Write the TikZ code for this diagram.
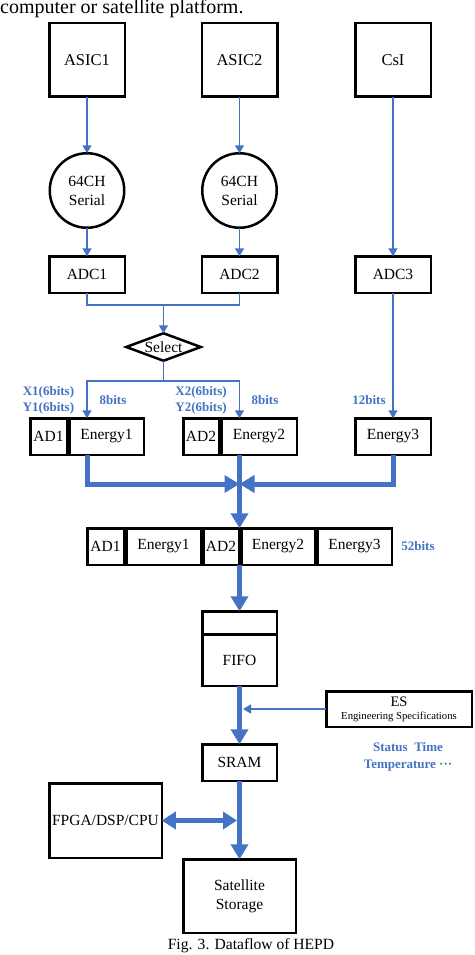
\documentclass[tikz,border=0pt]{standalone}
\usepackage{fontspec}
\setmainfont{Liberation Serif}
\usetikzlibrary{arrows.meta,shapes.geometric}
\definecolor{flow}{RGB}{68,114,196}
\begin{document}
\begin{tikzpicture}[x=1pt,y=-1pt,
 box/.style={draw=black,line width=2.5pt,inner sep=0pt,outer sep=0pt,font=\fontsize{15.5}{19}\selectfont,align=center},
 thinflow/.style={draw=flow,line width=1.6pt},
 thinarrow/.style={thinflow,-{Triangle[length=8pt,width=9pt]}},
 thickflow/.style={draw=flow,line width=5pt},
 thickarrow/.style={thickflow,-{Triangle[length=15pt,width=17pt]}},
 bitlabel/.style={text=flow,font=\fontsize{13}{16}\selectfont\bfseries,align=center,inner sep=0pt}]
\useasboundingbox (0,0) rectangle (474,955);

\node[anchor=base west,inner sep=0pt,font=\fontsize{20}{24}\selectfont] (top) at (0,13.5) {computer or satellite platform.};

% top row
\node[box,minimum width=75.5pt,minimum height=73.5pt,font=\fontsize{16.5}{19}\selectfont] (asic1) at (87,60) {ASIC1};
\node[box,minimum width=75.5pt,minimum height=73.5pt,font=\fontsize{16.5}{19}\selectfont] (asic2) at (239.5,60) {ASIC2};
\node[box,minimum width=75.5pt,minimum height=73.5pt,font=\fontsize{16.5}{19}\selectfont] (csi) at (393,60) {CsI};

\node[box,circle,minimum size=74.5pt] (ser1) at (87,190.5) {64CH\\Serial};
\node[box,circle,minimum size=74.5pt] (ser2) at (239.5,190.5) {64CH\\Serial};

\node[box,minimum width=75.5pt,minimum height=36.5pt] (adc1) at (87,274.5) {ADC1};
\node[box,minimum width=75.5pt,minimum height=36.5pt] (adc2) at (239.5,274.5) {ADC2};
\node[box,minimum width=75.5pt,minimum height=36.5pt] (adc3) at (393,274.5) {ADC3};

\node[box,diamond,aspect=2.57,minimum width=74.5pt,minimum height=27.5pt] (sel) at (163.5,347) {Select};

% energy boxes
\node[box,minimum width=36.5pt,minimum height=36.5pt] (ad1) at (48.5,436.5) {AD1};
\node[box,minimum width=74.5pt,minimum height=36.5pt] (en1) at (106.5,436.5) {Energy1};
\node[box,minimum width=35.5pt,minimum height=36.5pt] (ad2) at (201,436.5) {AD2};
\node[box,minimum width=75.5pt,minimum height=36.5pt] (en2) at (259,436.5) {Energy2};
\node[box,minimum width=75.5pt,minimum height=36.5pt] (en3) at (393,436.5) {Energy3};

% 52 bits row
\node[box,minimum width=36.5pt,minimum height=36.5pt] (r1) at (105.5,546.5) {AD1};
\node[box,minimum width=74.5pt,minimum height=36.5pt] (r2) at (163.5,546.5) {Energy1};
\node[box,minimum width=35.5pt,minimum height=36.5pt] (r3) at (221,546.5) {AD2};
\node[box,minimum width=73.5pt,minimum height=36.5pt] (r4) at (278,546.5) {Energy2};
\node[box,minimum width=74.5pt,minimum height=36.5pt] (r5) at (354.5,546.5) {Energy3};

% FIFO
\node[box,minimum width=74.5pt,minimum height=74.5pt,text height=34pt,text depth=0pt] (fifo) at (239.5,648.5) {FIFO};
\draw[line width=2.5pt] ([yshift=-23pt]fifo.north west) -- ([yshift=-23pt]fifo.north east);

\node[box,minimum width=145.5pt,minimum height=35.5pt,font=\fontsize{14.5}{14}\selectfont] (es) at (399,709)
  {ES\\[-1pt]{\fontsize{10.7}{12}\selectfont Engineering Specifications}};

\node[box,minimum width=74.5pt,minimum height=36.5pt] (sram) at (239.5,762.5) {SRAM};
\node[box,minimum width=112.5pt,minimum height=74.5pt] (fpga) at (105.5,820.5) {FPGA/DSP/CPU};
\node[box,minimum width=112.5pt,minimum height=73.5pt] (stor) at (239.5,896) {Satellite\\Storage};

\node[inner sep=0pt,font=\fontsize{15.6}{18}\selectfont] (cap) at (251,946) {Fig. 3. Dataflow of HEPD};

% labels
\node[bitlabel] (xy1) at (48.5,400) {X1(6bits)\\Y1(6bits)};
\node[bitlabel] (b1) at (113,400) {8bits};
\node[bitlabel] (xy2) at (201,400) {X2(6bits)\\Y2(6bits)};
\node[bitlabel] (b2) at (265,400) {8bits};
\node[bitlabel] (b3) at (369,400) {12bits};
\node[bitlabel] (b52) at (418,546) {52bits};
\node[bitlabel,font=\fontsize{13}{17}\selectfont\bfseries] (st) at (408,756.5) {Status~~Time\\Temperature ···};

% thin connectors
\draw[thinarrow] (asic1.south) -- (ser1.north);
\draw[thinarrow] (asic2.south) -- (ser2.north);
\draw[thinarrow] (ser1.south) -- (adc1.north);
\draw[thinarrow] (ser2.south) -- (adc2.north);
\draw[thinarrow] (csi.south) -- (adc3.north);
\draw[thinarrow] (adc3.south) -- (en3.north);
\coordinate (mg) at (163.5,305);
\draw[thinflow] (adc1.south) |- (mg) -| (adc2.south);
\draw[thinarrow] (mg) -- (sel.north);
\coordinate (sp) at (163.5,381);
\draw[thinflow] (sel.south) -- (sp);
\draw[thinarrow] (sp) -| (adc1.south |- en1.north);
\draw[thinarrow] (sp) -| (adc2.south |- en2.north);
\draw[thinarrow] (es.west) -- ([xshift=3.5pt]es.west -| sram.north);

% thick connectors
\coordinate (jn) at (239.5,484);
\draw[thickarrow] (adc1.south |- en1.south) |- (jn);
\draw[thickarrow] (en3.south) |- (jn);
\draw[thickarrow] (adc2.south |- en2.south) -- (adc2.south |- r4.north);
\draw[thickarrow] (fifo.north |- r4.south) -- (fifo.north);
\draw[thickarrow] (fifo.south) -- (sram.north);
\draw[thickarrow] (sram.south) -- (stor.north);
\draw[thickflow,{Triangle[length=14pt,width=17pt]}-{Triangle[length=14pt,width=17pt]}] (fpga.east) -- ([xshift=-2.5pt]fpga.east -| sram.south);
\end{tikzpicture}
\end{document}
